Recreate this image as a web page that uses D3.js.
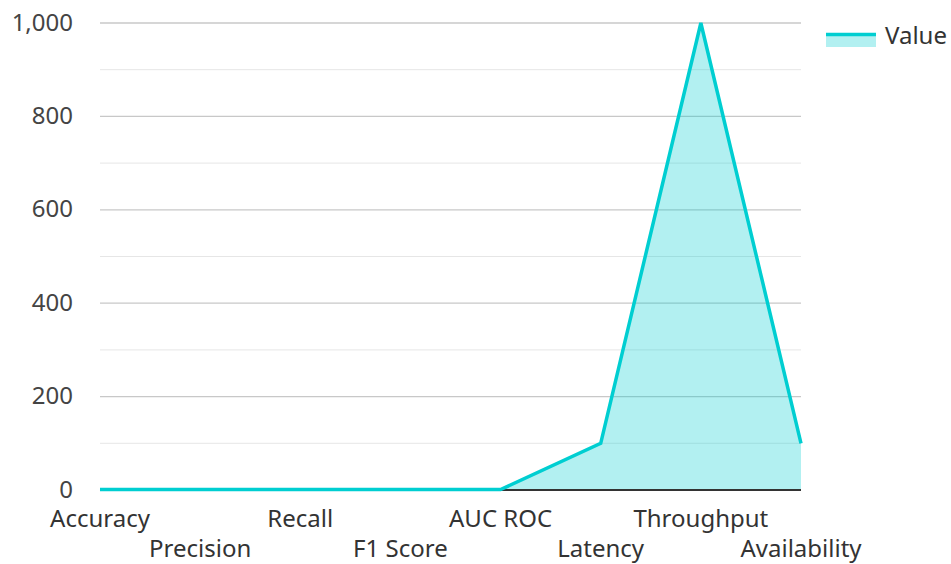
<!DOCTYPE html>
<html><head><meta charset="utf-8">
<script src="https://cdn.jsdelivr.net/npm/d3@7"></script>
<style>body{margin:0;background:#fff}svg{display:block;font-family:"Noto Sans","Open Sans",sans-serif}</style>
</head><body><svg id="c" width="951" height="564"></svg>
<script>
const categories = ["Accuracy","Precision","Recall","F1 Score","AUC ROC","Latency","Throughput","Availability"];
const values = [0.95, 0.92, 0.89, 0.9, 0.94, 100, 1000, 99.9];
const yTicks = [0, 200, 400, 600, 800, 1000];
const seriesName = "Value";

const svg = d3.select("#c");
const m = {l:100, r:150, t:23, b:74};
const W = 951, H = 564;
const x = d3.scalePoint().domain(categories).range([m.l, W - m.r]);
const y = d3.scaleLinear().domain([0, 1000]).range([H - m.b, m.t]);

const lineColor = "#00CED1";
// minor grid
svg.append("g").selectAll("line").data(d3.range(100, 1000, 200)).join("line")
  .attr("x1", m.l).attr("x2", W - m.r).attr("y1", d => y(d)).attr("y2", d => y(d))
  .attr("stroke", "#e6e6e6").attr("stroke-width", 1);
// major grid
svg.append("g").selectAll("line").data(yTicks.filter(d => d > 0)).join("line")
  .attr("x1", m.l).attr("x2", W - m.r).attr("y1", d => y(d)).attr("y2", d => y(d))
  .attr("stroke", "#c8c8c8").attr("stroke-width", 1.3);

const data = categories.map((c, i) => ({c, v: values[i]}));
svg.append("path").datum(data)
  .attr("d", d3.area().x(d => x(d.c)).y0(y(0)).y1(d => y(d.v)))
  .attr("fill", lineColor).attr("fill-opacity", 0.3);

// zero axis line
svg.append("line").attr("x1", m.l).attr("x2", W - m.r).attr("y1", y(0)).attr("y2", y(0))
  .attr("stroke", "#333").attr("stroke-width", 2);

svg.append("path").datum(data)
  .attr("d", d3.line().x(d => x(d.c)).y(d => y(d.v)))
  .attr("fill", "none").attr("stroke", lineColor).attr("stroke-width", 3.5).attr("stroke-linejoin", "miter");

// y labels
const fmt = d3.format(",");
svg.append("g").selectAll("text").data(yTicks).join("text")
  .attr("x", 73).attr("y", d => y(d)).attr("dy", "0.32em")
  .attr("text-anchor", "end").attr("font-size", 24).attr("fill", "#444")
  .text(d => fmt(d));

// x labels
svg.append("g").selectAll("text").data(categories).join("text")
  .attr("x", d => x(d)).attr("y", (d, i) => i % 2 === 0 ? 527 : 557)
  .attr("text-anchor", "middle").attr("font-size", 24).attr("fill", "#333")
  .text(d => d);

// legend
const lg = svg.append("g");
lg.append("rect").attr("x", 826).attr("y", 34).attr("width", 50).attr("height", 13)
  .attr("fill", lineColor).attr("fill-opacity", 0.3);
lg.append("line").attr("x1", 826).attr("x2", 876).attr("y1", 34.5).attr("y2", 34.5)
  .attr("stroke", lineColor).attr("stroke-width", 3.5);
lg.append("text").attr("x", 885).attr("y", 36).attr("dy", "0.35em")
  .attr("font-size", 24).attr("fill", "#333").text(seriesName);
</script></body></html>
